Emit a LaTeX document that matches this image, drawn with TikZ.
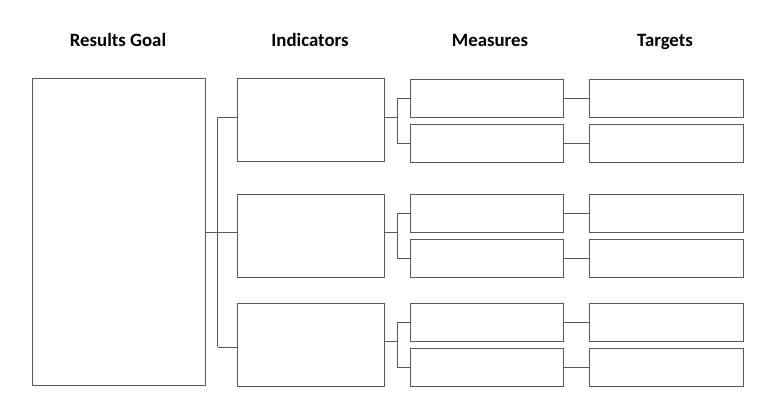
\documentclass[tikz,border=0pt]{standalone}
\usepackage{fontspec}
\setmainfont{Carlito}
\begin{document}
\begin{tikzpicture}[x=1pt,y=-1pt,
  box/.style={draw=linegray,line width=1pt,rectangle,inner sep=0pt,anchor=north west},
  conn/.style={draw=linegray,line width=0.9pt},
  head/.style={font=\bfseries\fontsize{18.8}{22}\selectfont,anchor=base}]
\definecolor{linegray}{HTML}{5A5A5A}
\useasboundingbox (0,0) rectangle (768,407);
% headings
\node[head] (h1) at (118,46) {Results Goal};
\node[head] (h2) at (310,46) {Indicators};
\node[head] (h3) at (490,46) {Measures};
\node[head] (h4) at (665,46) {Targets};
% goal
\node[box,minimum width=173pt,minimum height=307pt] (goal) at (32,78) {};
% indicators
\node[box,minimum width=147pt,minimum height=83pt] (ind1) at (237,78) {};
\node[box,minimum width=147pt,minimum height=83pt] (ind2) at (237,193.5) {};
\node[box,minimum width=147pt,minimum height=83pt] (ind3) at (237,302.5) {};
% measures
\foreach \n/\y in {1/78.5,2/123.5,3/193.5,4/238.5,5/302.5,6/347.5}{
  \node[box,minimum width=153.5pt,minimum height=38.5pt] (m\n) at (409.5,\y) {};
  \node[box,minimum width=153.5pt,minimum height=38.5pt] (t\n) at (589.3,\y) {};
}
% goal bus
\coordinate (j1) at (217.5,117);
\coordinate (j2) at (217.5,232);
\coordinate (j3) at (217.5,347);
\draw[conn] (goal.east |- j2) -- (j2);
\draw[conn] (j1) -- (j3);
\draw[conn] (j1) -- (j1 -| ind1.west);
\draw[conn] (j2) -- (j2 -| ind2.west);
\draw[conn] (j3) -- (j3 -| ind3.west);
% indicator to measures
\coordinate (k1) at (397,117);
\coordinate (k2) at (397,232);
\coordinate (k3) at (397,341);
\draw[conn] (ind1.east |- k1) -- (k1);
\draw[conn] (ind2.east |- k2) -- (k2);
\draw[conn] (ind3.east |- k3) -- (k3);
\draw[conn] (m1.west -| k1) -- (k1 |- m2.west);
\draw[conn] (m3.west -| k2) -- (k2 |- m4.west);
\draw[conn] (m5.west -| k3) -- (k3 |- m6.west);
\foreach \n/\k in {1/k1,2/k1,3/k2,4/k2,5/k3,6/k3}{
  \draw[conn] (m\n.west -| \k) -- (m\n.west);
  \draw[conn] (m\n.east) -- (t\n.west);
}
\end{tikzpicture}
\end{document}
